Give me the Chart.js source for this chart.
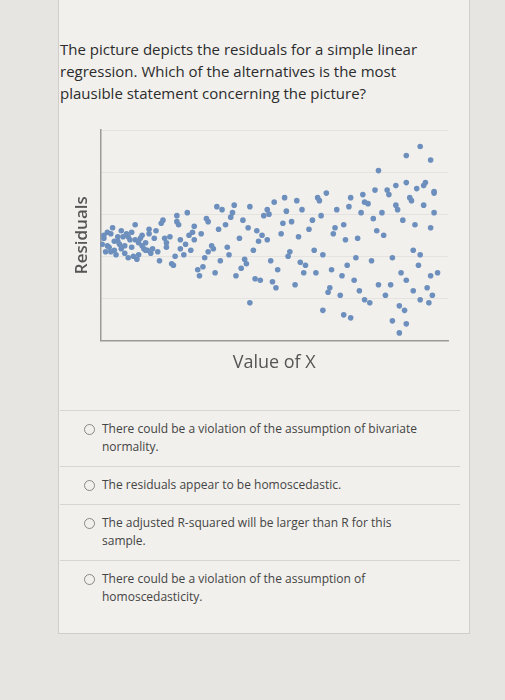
<!DOCTYPE html>
<html><head><meta charset="utf-8">
<script src="https://cdn.jsdelivr.net/npm/chart.js@4/dist/chart.umd.min.js"></script>
<style>
  body { margin:0; width:505px; height:700px; background:#e6e5e1; font-family:"Open Sans","Noto Sans",sans-serif; position:relative; overflow:hidden; }
  .card { position:absolute; left:58px; top:-2px; width:410px; height:634px; background:#f1f0ec; border:1px solid #cfceca; }
  .q { position:absolute; left:60px; top:38px; width:400px; font-size:15px; line-height:22px; color:#2c2c2c; }
  #wrap { position:absolute; left:68px; top:122px; width:390px; height:256px; }
  .opt { position:absolute; left:60px; width:400px; border-top:1px solid #d6d5d0; font-size:12px; color:#444; line-height:18px; }
  .opt span.r { position:absolute; left:24px; top:13px; width:9px; height:9px; border:1px solid #888; border-radius:50%; }
  .opt div { margin-left:42px; width:320px; padding-top:9px; }
</style></head><body>
<div class="card"></div>
<div class="q">The picture depicts the residuals for a simple linear regression. Which of the alternatives is the most plausible statement concerning the picture?</div>
<div id="wrap"><canvas id="chart"></canvas></div>
<div class="opt" style="top:410px"><span class="r"></span><div>There could be a violation of the assumption of bivariate normality.</div></div>
<div class="opt" style="top:466px"><span class="r"></span><div>The residuals appear to be homoscedastic.</div></div>
<div class="opt" style="top:504px"><span class="r"></span><div>The adjusted R-squared will be larger than R for this sample.</div></div>
<div class="opt" style="top:560px"><span class="r"></span><div>There could be a violation of the assumption of homoscedasticity.</div></div>
<script>
const xs = [
  1,2,3,4,5,6,7,8,9,10,11,12,13,14,15, 1.5,3.5,5.5,7.5,9.5,11.5,13.5, 2,4,6,8,10,12,14, 2.5,6.5,10.5,14.5,
  0.5,3,5,7,9,11,13,15.5, 1,4.5,8.5,12.5,
  16,17,18,19,20,21,22,23,24,25,26,27,28,29,30,31,32,33,34,35, 16.5,18.5,20.5,22.5,24.5,26.5,28.5,30.5,32.5,34.5, 17.5,21.5,25.5,29.5,33.5,
  19,23,27,31,
  36,37,38,39,40,41,42,43,44,45,46,47,48,49,50,51,52,53,54,55,56,57,58,59,60, 36.5,38.5,40.5,42.5,44.5,46.5,48.5,50.5,52.5,54.5,56.5,58.5, 37.5,41.5,45.5,49.5,53.5,57.5,
  61,62,63,64,65,66,67,68,69,70,71,72,73,74,75,76,77,78,79,80, 61.5,63.5,65.5,67.5,69.5,71.5,73.5,75.5,77.5,79.5, 62.5,66.5,70.5,74.5,78.5, 64,72,76,
  81,82,83,84,85,86,87,88,89,90,91,92,93,94,95,96,97, 81.5,83.5,85.5,87.5,89.5,91.5,93.5,95.5, 82.5,86.5,90.5,94.5, 84,88,92,96, 85,90,95,
  48,43,22,70,88,93,96, 88,92,95,80,86
];
const ys = [
  3,-2,6,-5,1,8,-7,4,-3,2,-8,5,0,9,-4, -6,10,-1,6,-9,3,-5, 7,1,-4,-10,12,-2,6, -3,4,-11,-7,
  -1,-6,4,-2,7,0,-5,3, 5,-8,2,-4,
  8,-12,15,-3,4,-15,18,2,-8,20,-5,11,-18,6,-10,14,-2,-20,9,22, -6,3,-14,12,-1,7,-22,16,-4,-12, 13,-9,5,-16,24,
  0,-4,2,-6,
  12,-8,20,-22,3,15,-14,24,-5,8,-25,18,2,-12,27,-18,6,30,-9,14,-28,4,22,-15,9, -3,25,-17,10,-24,5,19,-30,13,-6,28,-20, 17,-11,1,-26,21,-13,
  15,-20,28,-8,33,-30,6,22,-35,12,-15,30,-25,3,20,-38,26,-12,35,-28, -5,18,-33,10,-22,24,-10,32,-40,8, 30,-18,2,-32,16, -45,-50,27,
  20,-35,32,-10,38,-42,15,-25,30,-5,36,-38,25,-30,10,33,-20, 5,-28,22,-45,28,-15,40,-35, 35,-20,12,-40, -52,40,-8,20, 25,-32,-22,
  22,-40,14,-48,-54,38,34, 58,64,55,48,-60
];
const points = xs.map((x, i) => ({ x, y: ys[i] }));

new Chart(document.getElementById('chart'), {
  type: 'scatter',
  data: { datasets: [{ data: points, backgroundColor: '#6d8fbd', borderWidth: 0, pointRadius: 2.8 }] },
  options: {
    responsive: true, maintainAspectRatio: false, animation: false,
    layout: { padding: { top: 8, right: 10 } },
    plugins: { legend: { display: false }, tooltip: { enabled: false } },
    scales: {
      x: { min: 0, max: 100, ticks: { display: false }, grid: { display: false },
           border: { color: '#9a9a98', width: 1.5 },
           title: { display: true, text: 'Value of X', color: '#555', font: { size: 18, family: 'Open Sans' }, padding: { top: 4 } } },
      y: { min: -65, max: 75, ticks: { display: false, count: 6 }, grid: { color: '#e4e3df', drawTicks: false },
           border: { color: '#9a9a98', width: 1.5 },
           title: { display: true, text: 'Residuals', color: '#555', font: { size: 17, weight: '600', family: 'Open Sans' }, padding: { bottom: 8 } } }
    }
  }
});
</script>
</body></html>
